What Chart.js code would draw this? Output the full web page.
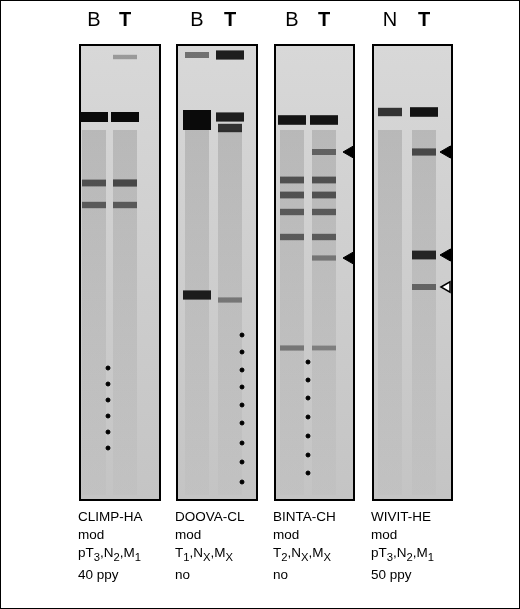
<!DOCTYPE html><html><head><meta charset="utf-8">
<script src="https://cdn.jsdelivr.net/npm/chart.js@4"></script>
<style>
body{margin:0;background:#fff;font-family:"Liberation Sans",Arial,sans-serif}
#wrap{position:relative;width:520px;height:609px}
#frame{position:absolute;left:0;top:0;width:520px;height:609px;border:1px solid #000;box-sizing:border-box;pointer-events:none}
.lab{position:absolute;top:8px;font-size:20px;width:30px;text-align:center}
.cap{position:absolute;top:508px;font-size:13.5px;line-height:18px}
canvas{position:absolute;left:0;top:0}
</style></head><body><div id="wrap"><canvas id="c" width="520" height="609"></canvas><div id="frame"></div></div>
<script>
const panels=[[80,160],[177,257],[275,354],[373,452]];
const laneX=[94,125,197,230,292,324,390,424];
const laneLabels=["B","T","B","T","B","T","N","T"];
const captions=[
"CLIMP-HA<br>mod<br>pT<sub>3</sub>,N<sub>2</sub>,M<sub>1</sub><br>40 ppy",
"DOOVA-CL<br>mod<br>T<sub>1</sub>,N<sub>X</sub>,M<sub>X</sub><br>no",
"BINTA-CH<br>mod<br>T<sub>2</sub>,N<sub>X</sub>,M<sub>X</sub><br>no",
"WIVIT-HE<br>mod<br>pT<sub>3</sub>,N<sub>2</sub>,M<sub>1</sub><br>50 ppy"];
const bands=[
 [[117,1],[183,.6],[205,.55]],
 [[57,.3],[117,1],[183,.65],[205,.55]],
 [[55,.5],[115,1],[125,1],[295,.9]],
 [[55,.9],[117,.9],[128,.8],[300,.4]],
 [[120,.95],[180,.6],[195,.6],[212,.55],[237,.55],[348,.4]],
 [[120,.95],[152,.5],[180,.6],[195,.6],[212,.55],[237,.55],[258,.4],[348,.35]],
 [[112,.8]],
 [[112,.95],[152,.65],[255,.85],[287,.5]]];
const dots1=[368,384,400,416,432,448];
const dots2=[335,352,370,387,405,423,443,462,482];
const dots3=[362,380,398,417,436,455,473];
const arrowsFilled=[[350,152],[350,258],[447,152],[447,255]];
const arrowsOpen=[[447,287]];
const wrap=document.getElementById('wrap');
laneLabels.forEach((t,i)=>{const d=document.createElement('div');d.className='lab';d.style.left=(laneX[i]-15)+'px';d.textContent=t;if(t==='T')d.style.fontWeight='bold';wrap.appendChild(d);});
captions.forEach((t,i)=>{const d=document.createElement('div');d.className='cap';d.style.left=(panels[i][0]-2)+'px';d.innerHTML=t;wrap.appendChild(d);});
const ds=[];
bands.forEach((b,i)=>{ds.push({data:b.map(v=>({x:laneX[i],y:v[0]})),pointStyle:'line',
 pointRadius:b.map(v=>v[1]>.85?14:12),pointBorderWidth:b.map(v=>2+v[1]*8),
 pointBorderColor:b.map(v=>`rgba(10,10,10,${v[1]})`)});});
[[108,dots1],[242,dots2],[308,dots3]].forEach(([x,a])=>ds.push({data:a.map(y=>({x,y})),pointRadius:2,pointBackgroundColor:'#000',pointBorderColor:'#000'}));
ds.push({data:arrowsFilled.map(a=>({x:a[0],y:a[1]})),pointStyle:'triangle',rotation:270,pointRadius:7,pointBackgroundColor:'#000',pointBorderColor:'#000'});
ds.push({data:arrowsOpen.map(a=>({x:a[0],y:a[1]})),pointStyle:'triangle',rotation:270,pointRadius:6,pointBackgroundColor:'#fff',pointBorderColor:'#000',pointBorderWidth:1.5});
const bg={id:'bg',beforeDatasetsDraw(ch){const c=ch.ctx,x=ch.scales.x,y=ch.scales.y;
 panels.forEach(p=>{const x0=x.getPixelForValue(p[0]),x1=x.getPixelForValue(p[1]),y0=y.getPixelForValue(45),y1=y.getPixelForValue(500);
 const g=c.createLinearGradient(0,y0,0,y1);g.addColorStop(0,'#d8d8d8');g.addColorStop(1,'#c4c4c4');
 c.fillStyle=g;c.fillRect(x0,y0,x1-x0,y1-y0);c.lineWidth=2;c.strokeStyle='#000';c.strokeRect(x0,y0,x1-x0,y1-y0);});
 laneX.forEach(lx=>{const px=x.getPixelForValue(lx);const t=y.getPixelForValue(130),b=y.getPixelForValue(495);const g=c.createLinearGradient(0,t,0,b);
 g.addColorStop(0,'rgba(120,120,120,0.3)');g.addColorStop(1,'rgba(120,120,120,0.04)');c.fillStyle=g;
 c.fillRect(px-12,t,24,b-t);});}};
new Chart(document.getElementById('c'),{type:'scatter',data:{datasets:ds},plugins:[bg],
 options:{responsive:false,devicePixelRatio:1,animation:false,layout:{padding:0,autoPadding:false},
 plugins:{legend:{display:false},tooltip:{enabled:false}},
 scales:{x:{display:false,min:0,max:520},y:{display:false,min:0,max:609,reverse:true}}}});
</script></body></html>
